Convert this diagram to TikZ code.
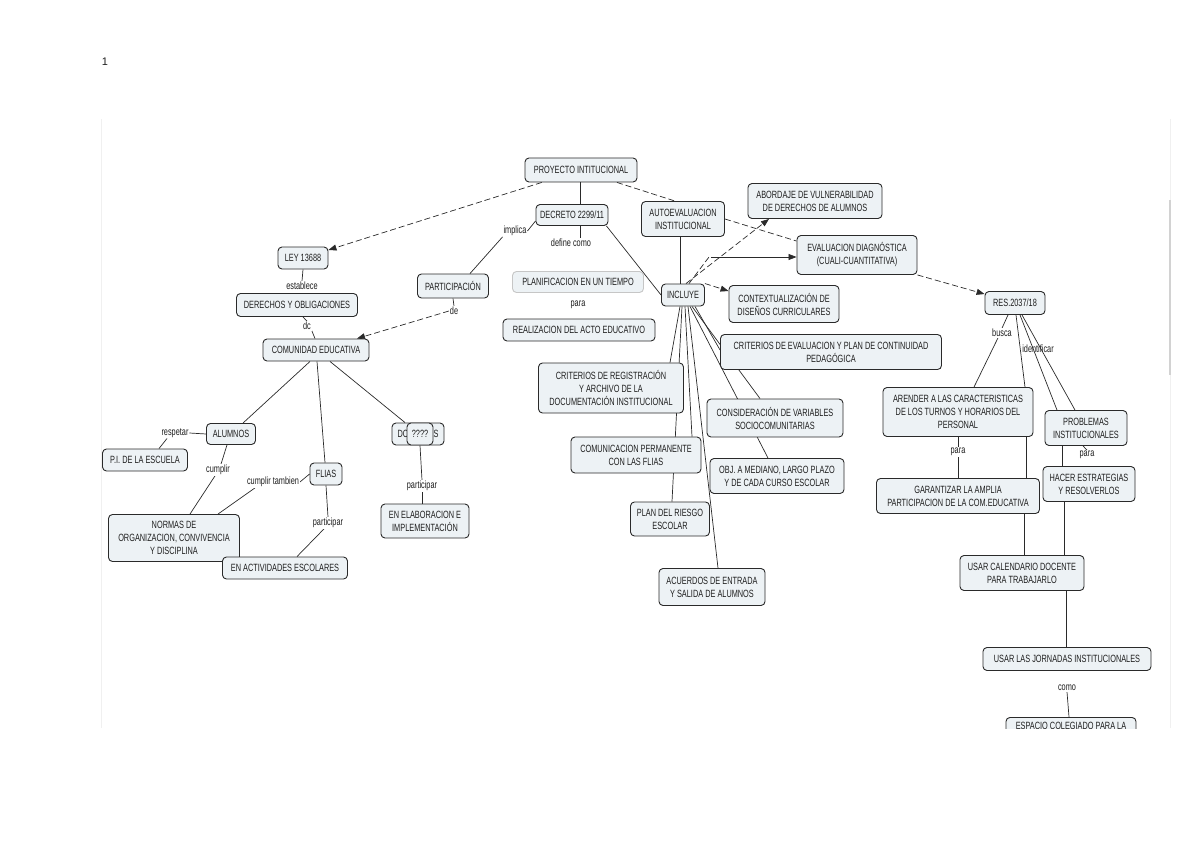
\documentclass[tikz,border=0pt]{standalone}
\usepackage{fontspec}
\setmainfont{Liberation Sans}[FakeStretch=0.7]
\newfontfamily\pagefont{Liberation Sans}
\usetikzlibrary{arrows.meta}
\definecolor{boxfill}{HTML}{EDF2F5}
\definecolor{ink}{HTML}{1E1E1E}
\definecolor{edgec}{HTML}{2A2A2A}
\pgfdeclarelayer{bg}
\pgfsetlayers{bg,main}
\begin{document}
\begin{tikzpicture}[x=1pt,y=-1pt,
  box/.style={draw=edgec, line width=0.9pt, rounded corners=4pt, fill=boxfill, align=center, inner sep=1pt, text=ink, font=\fontsize{10.5}{13}\selectfont},
  lbl/.style={fill=white, inner sep=0.8pt, text=ink, font=\fontsize{10.5}{11}\selectfont},
  con/.style={draw=edgec, line width=0.7pt},
  dsh/.style={con, dash pattern=on 6pt off 3pt},
  arr/.style={-{Triangle[length=8pt,width=6pt]}}]
\useasboundingbox (0,0) rectangle (1200,848);
% frame
\draw[gray!12, line width=1pt] (101,119) -- (101,728);
\draw[gray!12, line width=1pt] (1170,119) -- (1170,728);
\draw[gray!35, line width=1.6pt] (1170,200) -- (1170,375);
\node[font=\pagefont\fontsize{11}{13}\selectfont, text=ink] (pg) at (105,62) {1};

% nodes
\node[box, minimum width=112pt, minimum height=24pt] (proy) at (581,170) {PROYECTO INTITUCIONAL};
\node[box, minimum width=72pt, minimum height=21pt] (decr) at (572,215) {DECRETO 2299/11};
\node[box, minimum width=83pt, minimum height=35pt] (auto) at (683,219) {AUTOEVALUACION\\INSTITUCIONAL};
\node[box, minimum width=134pt, minimum height=35pt] (abor) at (815,201) {ABORDAJE DE VULNERABILIDAD\\DE DERECHOS DE ALUMNOS};
\node[box, minimum width=120pt, minimum height=39pt] (eval) at (857,255) {EVALUACION DIAGNÓSTICA\\(CUALI-CUANTITATIVA)};
\node[box, minimum width=50pt, minimum height=22pt] (ley) at (303,258) {LEY 13688};
\node[box, minimum width=121pt, minimum height=23pt] (dere) at (297,305) {DERECHOS Y OBLIGACIONES};
\node[box, minimum width=71pt, minimum height=24pt] (part) at (453,286) {PARTICIPACIÓN};
\node[box, draw=gray!45, minimum width=131pt, minimum height=21pt] (plan) at (578,282) {PLANIFICACION EN UN TIEMPO};
\node[lbl] (para1) at (578,305) {para};
\node[box, minimum width=152pt, minimum height=22pt] (real) at (579,330) {REALIZACION DEL ACTO EDUCATIVO};
\node[box, minimum width=43pt, minimum height=22pt] (incl) at (683,295) {INCLUYE};
\node[box, minimum width=110pt, minimum height=37pt] (cont) at (784,304) {CONTEXTUALIZACIÓN DE\\DISEÑOS CURRICULARES};
\node[box, minimum width=60pt, minimum height=23pt] (res) at (1015,303) {RES.2037/18};
\node[box, minimum width=106pt, minimum height=22pt] (comu) at (316,350) {COMUNIDAD EDUCATIVA};
\node[box, minimum width=221pt, minimum height=35pt] (crev) at (831,352) {CRITERIOS DE EVALUACION Y PLAN DE CONTINUIDAD\\PEDAGÓGICA};
\node[box, minimum width=145pt, minimum height=50pt] (creg) at (611,388) {CRITERIOS DE REGISTRACIÓN\\Y ARCHIVO DE LA\\DOCUMENTACIÓN INSTITUCIONAL};
\node[box, minimum width=136pt, minimum height=38pt] (cons) at (775,418) {CONSIDERACIÓN DE VARIABLES\\SOCIOCOMUNITARIAS};
\node[box, minimum width=150pt, minimum height=49pt] (aren) at (958,412) {ARENDER A LAS CARACTERISTICAS\\DE LOS TURNOS Y HORARIOS DEL\\PERSONAL};
\node[box, minimum width=82pt, minimum height=35pt] (prob) at (1086,428) {PROBLEMAS\\INSTITUCIONALES};
\node[box, minimum width=49pt, minimum height=21pt] (alum) at (231,434) {ALUMNOS};
\node[box, minimum width=52pt, minimum height=22pt] (doce) at (418,434) {DOCENTES};
\node[box, minimum width=26pt, minimum height=22pt, inner sep=0pt] (qq) at (420,434) {????};
\node[box, minimum width=85pt, minimum height=22pt] (pi) at (145,460) {P.I. DE LA ESCUELA};
\node[box, minimum width=32pt, minimum height=22pt] (flias) at (326,474) {FLIAS};
\node[box, minimum width=130pt, minimum height=36pt] (comp) at (636,455) {COMUNICACION PERMANENTE\\CON LAS FLIAS};
\node[box, minimum width=134pt, minimum height=35pt] (obj) at (777,476) {OBJ. A MEDIANO, LARGO PLAZO\\Y DE CADA CURSO ESCOLAR};
\node[box, minimum width=92pt, minimum height=35pt] (hace) at (1089,484) {HACER ESTRATEGIAS\\Y RESOLVERLOS};
\node[box, minimum width=163pt, minimum height=35pt] (gara) at (958,496) {GARANTIZAR LA AMPLIA\\PARTICIPACION DE LA COM.EDUCATIVA};
\node[box, minimum width=88pt, minimum height=34pt] (elab) at (425,521) {EN ELABORACION E\\IMPLEMENTACIÓN};
\node[box, minimum width=79pt, minimum height=34pt] (plr) at (670,519) {PLAN DEL RIESGO\\ESCOLAR};
\node[box, minimum width=131pt, minimum height=47pt] (norm) at (174,538) {NORMAS DE\\ORGANIZACION, CONVIVENCIA\\Y DISCIPLINA};
\node[box, minimum width=125pt, minimum height=22pt] (acti) at (285,568) {EN ACTIVIDADES ESCOLARES};
\node[box, minimum width=124pt, minimum height=35pt] (ucal) at (1022,573) {USAR CALENDARIO DOCENTE\\PARA TRABAJARLO};
\node[box, minimum width=106pt, minimum height=37pt] (acue) at (712,587) {ACUERDOS DE ENTRADA\\Y SALIDA DE ALUMNOS};
\node[box, minimum width=168pt, minimum height=23pt] (ujor) at (1067,659) {USAR LAS JORNADAS INSTITUCIONALES};
\begin{scope}
\clip (990,700) rectangle (1160,728);
\node[box, anchor=north, minimum width=130pt, minimum height=30pt] (espa) at (1071,717) {ESPACIO COLEGIADO PARA LA\\\phantom{X}};
\end{scope}

% linking phrases
\node[lbl] (impl) at (515,231) {implica};
\node[lbl] (defc) at (571,243) {define como};
\node[lbl] (est) at (302,286) {establece};
\node[lbl] (dc) at (307,326) {dc};
\node[lbl] (de) at (454,311) {de};
\node[lbl] (resp) at (175,433) {respetar};
\node[lbl] (cump) at (218,470) {cumplir};
\node[lbl] (ctam) at (273,482) {cumplir tambien};
\node[lbl] (par1) at (328,523) {participar};
\node[lbl] (par2) at (422,486) {participar};
\node[lbl] (busc) at (1002,333) {busca};
\node[lbl, fill=none] (iden) at (1038,349) {identificar};
\node[lbl] (para2) at (958,452) {para};
\node[lbl] (para3) at (1087,455) {para};
\node[lbl] (como) at (1067,688) {como};

\begin{pgfonlayer}{bg}
% top
\draw[dsh, arr] (proy) -- (ley);
\draw[con] ([xshift=-1pt]proy.south) -- ([xshift=-1pt]proy.south |- decr.north);
\draw[dsh] ([xshift=36pt]proy.south) -- ([xshift=-8pt]auto.north);
\draw[con] ([yshift=-6pt]decr.west) -- (impl.east);
\draw[con] (impl.south west) -- ([xshift=17pt]part.north);
\draw[con] ([xshift=8pt]decr.south) -- ([xshift=9pt]defc.north);
\draw[con] ([xshift=-2pt]decr.south east) -- (incl.west);
\draw[dsh] (auto.east) -- ([yshift=-6pt]eval.north west);
\draw[con] ([xshift=-3pt]auto.south) -- ([xshift=-3pt]auto.south |- incl.north);
\draw[dsh, arr] ([xshift=3pt]incl.north) -- ([xshift=-46pt]abor.south);
\coordinate (ie) at (709,257);
\draw[dsh] ([xshift=6pt]incl.north) -- (ie);
\draw[con, arr] ([xshift=2pt]ie) -- (eval.west |- ie);
\draw[dsh, arr] (incl.north east) -- ([yshift=-6pt]cont.north west);
\draw[dsh, arr] (eval.south east) -- ([yshift=-3pt]res.north west);
% incluye fan
\draw[con] ([xshift=-3pt]incl.south) -- ([xshift=59pt]creg.north);
\draw[con] ([xshift=2pt]incl.south) -- ([xshift=56pt]comp.north);
\draw[con] ([xshift=-1pt]incl.south) -- ([xshift=2pt]plr.north);
\draw[con] ([xshift=5pt]incl.south) -- ([xshift=6pt]acue.north);
\draw[con] ([xshift=7pt]incl.south) -- ([xshift=-9pt]obj.north);
\draw[con] ([xshift=9pt]incl.south) -- ([xshift=-15pt]cons.north);
\draw[con] ([xshift=12pt]incl.south) -- ([yshift=2pt]crev.west);
% left
\draw[con] (ley.south) -- (est.north);
\draw[con] ([xshift=6pt]dere.south) -- (dc.north);
\draw[con] (dc.south east) -- ([xshift=-1pt]comu.north);
\draw[con] (part.south) -- (de.north);
\draw[dsh, arr] (de.west) -- ([xshift=41pt]comu.north);
\draw[con] ([xshift=-6pt]comu.south) -- ([xshift=12pt]alum.north);
\draw[con] ([xshift=1pt]comu.south) -- ([xshift=-1pt]flias.north);
\draw[con] ([xshift=14pt]comu.south) -- ([xshift=-13pt]doce.north);
\draw[con] (alum.west) -- (resp.east);
\draw[con] ([xshift=-8pt]resp.south) -- ([xshift=14pt]pi.north);
\draw[con] ([xshift=-4pt]alum.south) -- ([xshift=3pt]cump.north);
\draw[con] ([xshift=-3pt]cump.south) -- ([xshift=16pt]norm.north);
\draw[con] (flias.west) -- (ctam.east);
\draw[con] ([xshift=-18pt]ctam.south) -- ([xshift=44pt]norm.north);
\draw[con] (flias.south) -- (par1.north);
\draw[con] ([xshift=-4pt]par1.south) -- ([xshift=12pt]acti.north);
\draw[con] (qq.south) -- (par2.north);
\draw[con] (par2.south) -- (par2.south |- elab.north);
% right
\draw[con] ([xshift=-7pt]res.south) -- (busc.north);
\draw[con] ([xshift=-4pt]busc.south) -- ([xshift=16pt]aren.north);
\draw[con] ([xshift=1pt]res.south) -- ([xshift=67pt]aren.north);
\draw[con] ([xshift=68pt]aren.south) -- ([xshift=68pt]gara.north);
\draw[con] ([xshift=66pt]gara.south) -- ([xshift=2pt]ucal.north);
\draw[con] ([xshift=5pt]res.south) -- ([xshift=-29pt]prob.north);
\draw[con] ([xshift=7pt]res.south) -- ([xshift=-11pt]prob.north);
\draw[con] ([xshift=-24pt]prob.south) -- ([xshift=-27pt]hace.north);
\draw[con] ([xshift=-3pt]prob.south) -- (para3.north);
\draw[con] ([xshift=-25pt]hace.south) -- ([xshift=42pt]ucal.north);
\draw[con] ([xshift=44pt]ucal.south) -- ([xshift=-1pt]ujor.north);
\draw[con] (aren.south) -- (para2.north);
\draw[con] (para2.south) -- (gara.north);
\draw[con] (como.south) -- ([xshift=-2pt]espa.north);
\end{pgfonlayer}
\end{tikzpicture}
\end{document}
